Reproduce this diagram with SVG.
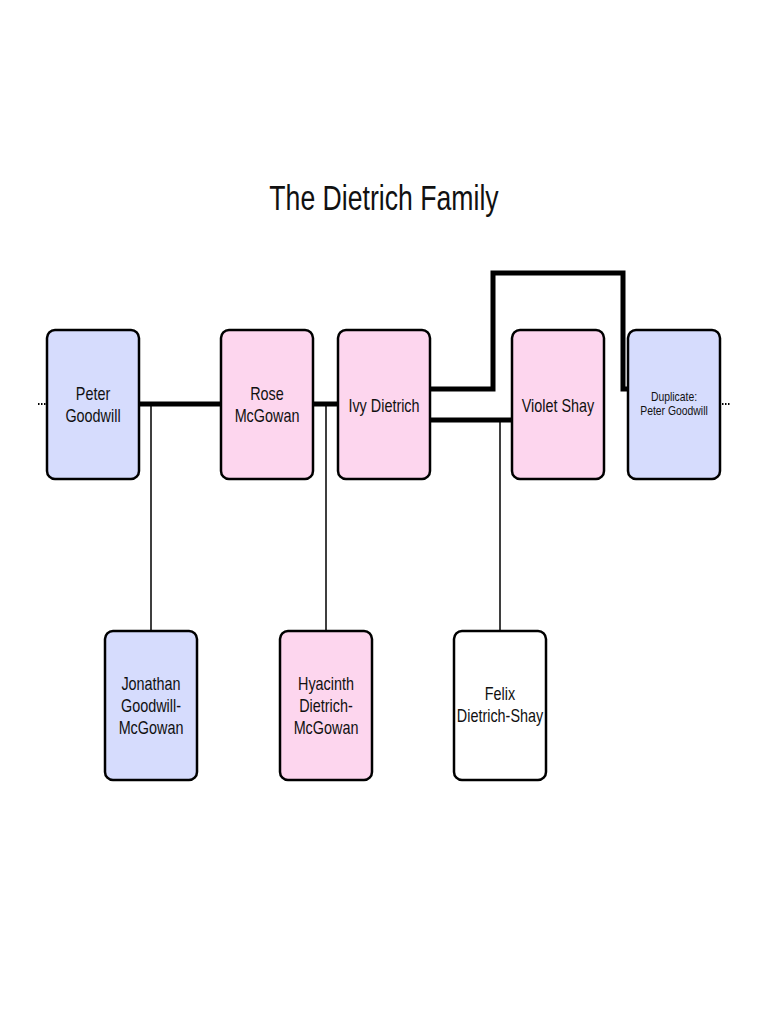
<svg xmlns="http://www.w3.org/2000/svg" width="768" height="1024" viewBox="0 0 768 1024">
<style>
text{font-family:"Liberation Sans",Arial,sans-serif;fill:#111;text-anchor:middle}
.n{stroke:#000;stroke-width:2.5}
.b{fill:#d6dcfd}.p{fill:#fdd6ee}.w{fill:#fff}
.t{font-size:18px}
.thick{stroke:#000;stroke-width:5;fill:none}
.thin{stroke:#000;stroke-width:1.5;fill:none}
.dot{stroke:#000;stroke-width:2;stroke-dasharray:1.5 1.5;fill:none}
</style>
<rect width="768" height="1024" fill="#fff"/>
<text transform="translate(384 210) scale(.74 1)" style="font-size:36px">The Dietrich Family</text>
<g id="connectors">
<path class="thick" d="M139 404H221M313 404H338"/>
<path class="thick" d="M430 389H493V273H623V389H628"/>
<path class="thick" d="M430 420H512"/>
<path class="thin" d="M151 404V631M326 404V631M500 420V631"/>
<path class="dot" d="M38 404H46M722 404H731"/>
</g>
<g id="peter"><rect class="n b" x="47" y="330" width="92" height="149" rx="8"/><text class="t" transform="translate(93 400) scale(.8 1)">Peter</text><text class="t" transform="translate(93 422) scale(.8 1)">Goodwill</text></g>
<g id="rose"><rect class="n p" x="221" y="330" width="92" height="149" rx="8"/><text class="t" transform="translate(267 400) scale(.8 1)">Rose</text><text class="t" transform="translate(267 422) scale(.8 1)">McGowan</text></g>
<g id="ivy"><rect class="n p" x="338" y="330" width="92" height="149" rx="8"/><text class="t" transform="translate(384 412) scale(.8 1)">Ivy Dietrich</text></g>
<g id="violet"><rect class="n p" x="512" y="330" width="92" height="149" rx="8"/><text class="t" transform="translate(558 412) scale(.8 1)">Violet Shay</text></g>
<g id="duplicate"><rect class="n b" x="628" y="330" width="92" height="149" rx="8"/><text transform="translate(674 401) scale(.8 1)" style="font-size:13px">Duplicate:</text><text transform="translate(674 415) scale(.8 1)" style="font-size:13px">Peter Goodwill</text></g>
<g id="jonathan"><rect class="n b" x="105" y="631" width="92" height="149" rx="8"/><text class="t" transform="translate(151 690) scale(.8 1)">Jonathan</text><text class="t" transform="translate(151 712) scale(.8 1)">Goodwill-</text><text class="t" transform="translate(151 734) scale(.8 1)">McGowan</text></g>
<g id="hyacinth"><rect class="n p" x="280" y="631" width="92" height="149" rx="8"/><text class="t" transform="translate(326 690) scale(.8 1)">Hyacinth</text><text class="t" transform="translate(326 712) scale(.8 1)">Dietrich-</text><text class="t" transform="translate(326 734) scale(.8 1)">McGowan</text></g>
<g id="felix"><rect class="n w" x="454" y="631" width="92" height="149" rx="8"/><text class="t" transform="translate(500 700) scale(.8 1)">Felix</text><text class="t" transform="translate(500 722) scale(.8 1)">Dietrich-Shay</text></g>
</svg>
